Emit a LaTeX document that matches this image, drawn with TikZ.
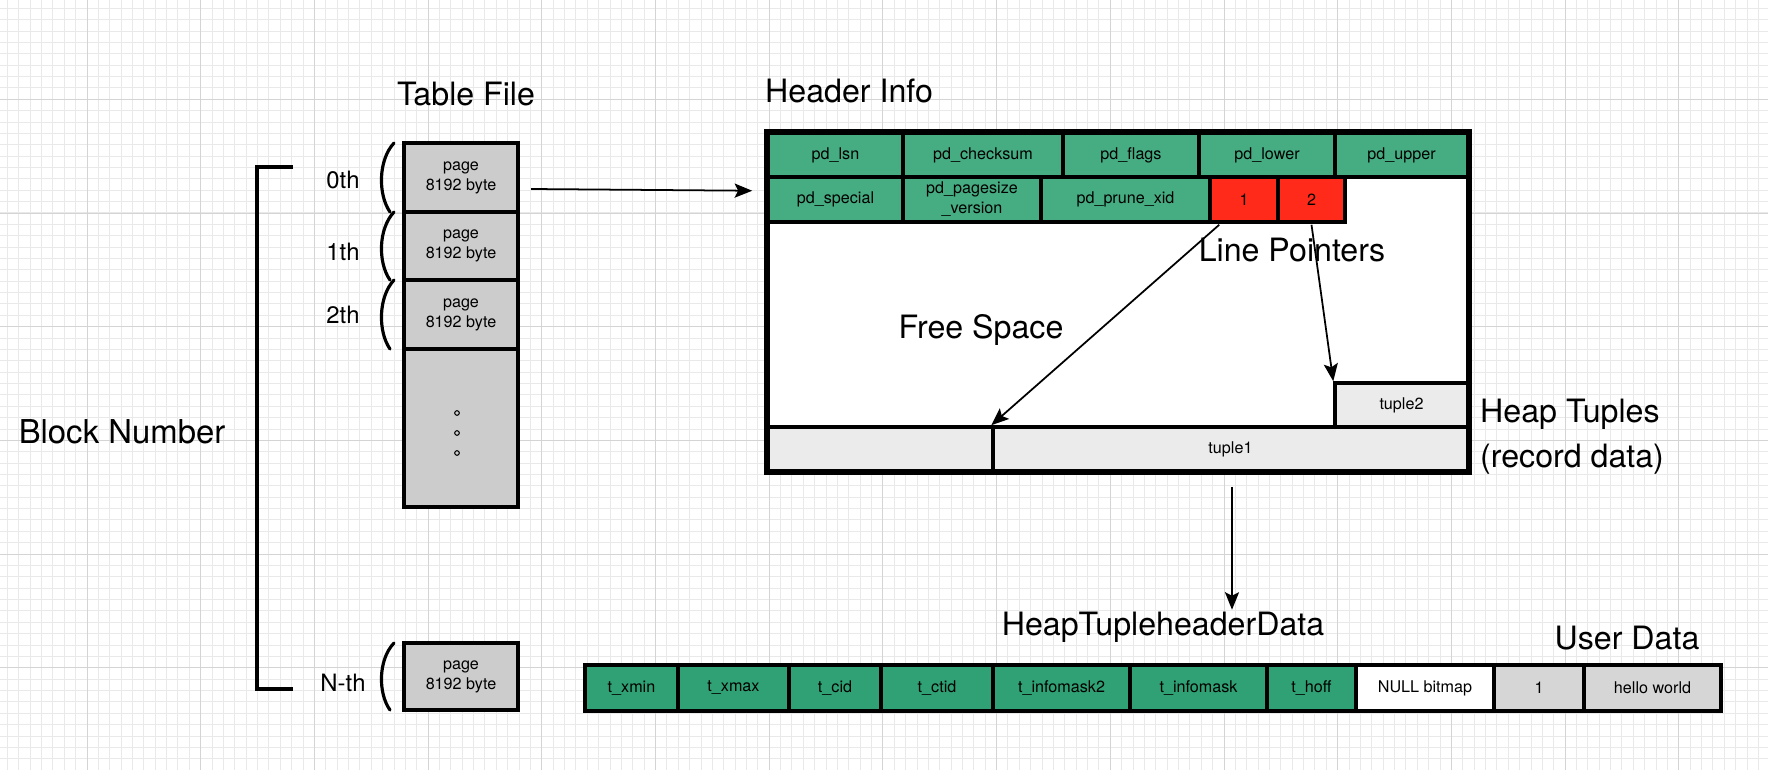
\documentclass[tikz,border=0pt]{standalone}
\usepackage{fontspec}
\setmainfont{TeX Gyre Heros}
\usetikzlibrary{calc,arrows.meta}

\definecolor{hdrgreen}{RGB}{70,173,130}
\definecolor{tgreen}{RGB}{47,161,116}
\definecolor{ptred}{RGB}{255,42,26}
\definecolor{pagegrey}{RGB}{204,204,204}
\definecolor{tuplegrey}{RGB}{235,235,235}
\definecolor{datagrey}{RGB}{214,214,214}
\definecolor{minorline}{RGB}{233,233,233}
\definecolor{majorline}{RGB}{212,212,212}

\newdimen\pxu
\pxu=0.02cm
\newcommand\cellfont{\fontsize{9.2}{11.4}\selectfont}
\newcommand\bigfont{\fontsize{18.3}{25.6}\selectfont}
\newcommand\ordfont{\fontsize{13.6}{16}\selectfont}

\tikzset{
  box/.style 2 args={draw, line width=2pt, inner sep=0pt, align=center,
    minimum width=#1*\pxu, minimum height=#2*\pxu, font=\cellfont},
  page/.style={fill=pagegrey, line width=2.3pt},
  hdr/.style={fill=hdrgreen},
  ptr/.style={fill=ptred},
  tuple/.style={fill=tuplegrey},
  tfield/.style={fill=tgreen},
  udata/.style={fill=datagrey},
  biglabel/.style={font=\bigfont},
  ordlabel/.style={font=\ordfont},
  paren/.style={line width=1.8pt, line cap=round},
  ptrarrow/.style={line width=1pt, -{Stealth[length=10pt,width=8pt,inset=2pt]}}
}

\begin{document}
\begin{tikzpicture}[x=0.02cm, y=-0.02cm]
    \useasboundingbox (0,0) rectangle (1768,770);

    % background grid
    \foreach \i in {0,...,155}
        \draw[minorline, line width=0.55pt] (7.41+\i*11.37,0) -- (7.41+\i*11.37,770);
    \foreach \j in {0,...,67}
        \draw[minorline, line width=0.55pt] (0,8.3+\j*11.37) -- (1768,8.3+\j*11.37);
    \foreach \i in {0,...,14}
        \draw[majorline, line width=0.55pt] (87+\i*113.7,0) -- (87+\i*113.7,770);
    \foreach \j in {0,...,5}
        \draw[majorline, line width=0.55pt] (0,99.3+\j*113.7) -- (1768,99.3+\j*113.7);

    % table file
    \node[biglabel] (tablefile) at (466,94) {Table File};
    \node[box={114}{69}, page] (p0) at (461,177.5) {page\\8192 byte};
    \node[box={114}{68}, page] (p1) at (461,246) {page\\8192 byte};
    \node[box={114}{69}, page] (p2) at (461,314.5) {page\\8192 byte};
    \node[box={114}{158}, page] (pmore) at (461,428) {};
    \node[box={114}{67}, page] (pN) at (461,676.5) {page\\8192 byte};
    \foreach \y in {413,433,453}
        \draw[line width=0.6pt] (457,\y) circle[radius=2.3];

    \foreach \ya/\yb in {143/212, 212/280, 280/349, 643/710}
        \draw[paren] (394,\ya) .. controls ({378},{\ya+0.25*(\yb-\ya)}) and ({378},{\ya+0.75*(\yb-\ya)}) .. (390,\yb);

    \node[ordlabel] (ord0) at (343,180) {0th};
    \node[ordlabel] (ord1) at (343,252) {1th};
    \node[ordlabel] (ord2) at (343,315) {2th};
    \node[ordlabel] (ordN) at (343,683) {N-th};

    \draw[line width=1.8pt] (293,167) -| (257,689) -- (293,689);
    \node[biglabel, font=\fontsize{18.7}{25.6}\selectfont] (blocknum) at (122,432) {Block Number};

    % page layout
    \node[biglabel, anchor=west] (hdrinfo) at (759,91) {Header Info};
    \node[box={700}{338}, fill=white, line width=2.3pt] (pagelayout) at (1118,302) {};

    \node[box={135}{44}, hdr] (lsn) at (835.5,155) {pd\_lsn};
    \node[box={160}{44}, hdr] (checksum) at (983,155) {pd\_checksum};
    \node[box={136}{44}, hdr] (flags) at (1131,155) {pd\_flags};
    \node[box={136}{44}, hdr] (lower) at (1267,155) {pd\_lower};
    \node[box={133}{44}, hdr] (upper) at (1401.5,155) {pd\_upper};

    \node[box={135}{45}, hdr] (special) at (835.5,199.5) {pd\_special};
    \node[box={138}{45}, hdr] (pagesize) at (972,199.5) {pd\_pagesize\\\_version};
    \node[box={169}{45}, hdr] (prune) at (1125.5,199.5) {pd\_prune\_xid};
    \node[box={68}{45}, ptr] (lp1) at (1244,199.5) {1};
    \node[box={67}{45}, ptr] (lp2) at (1311.5,199.5) {2};

    \node[box={225}{44}, tuple] (freeend) at (880.5,449) {};
    \node[box={475}{44}, tuple] (tuple1) at (1230.5,449) {tuple1};
    \node[box={133}{44}, tuple] (tuple2) at (1401.5,405) {tuple2};
    \draw[line width=2.3pt] (pagelayout.north west) rectangle (pagelayout.south east);

    \node[biglabel] (linepointers) at (1292,250) {Line Pointers};
    \node[biglabel] (freespace) at (981,330) {Free Space};
    \node[biglabel, anchor=west, align=left] (heaptuples) at (1474,436.5) {Heap Tuples\\(record data)};

    % tuple layout
    \node[biglabel] (hthd) at (1163,627) {HeapTupleheaderData};
    \node[biglabel] (userdata) at (1627,638) {User Data};

    \node[box={93}{46}, tfield] (xmin) at (631.5,688) {t\_xmin};
    \node[box={111}{46}, tfield] (xmax) at (733.5,688) {t\_xmax};
    \node[box={92}{46}, tfield] (cid) at (835,688) {t\_cid};
    \node[box={112}{46}, tfield] (ctid) at (937,688) {t\_ctid};
    \node[box={137}{46}, tfield] (infomask2) at (1061.5,688) {t\_infomask2};
    \node[box={137}{46}, tfield] (infomask) at (1198.5,688) {t\_infomask};
    \node[box={89}{46}, tfield] (hoff) at (1311.5,688) {t\_hoff};
    \node[box={138}{46}, fill=white] (nullbm) at (1425,688) {NULL bitmap};
    \node[box={90}{46}, udata] (col1) at (1539,688) {1};
    \node[box={137}{46}, udata] (col2) at (1652.5,688) {hello world};

    % connectors
    \draw[ptrarrow] ($(p0.east)+(11,11.5)$) -- ($(lsn.south west)+(-14,12)$);
    \draw[ptrarrow] ($(lp1.south west)+(11,1)$) -- (tuple1.north west);
    \draw[ptrarrow] ($(lp2.south)+(0,1)$) -- (tuple2.north west);
    \draw[ptrarrow] ($(tuple1.south)+(1.5,14)$) -- ($(tuple1.south)+(1.5,137)$);
\end{tikzpicture}
\end{document}
